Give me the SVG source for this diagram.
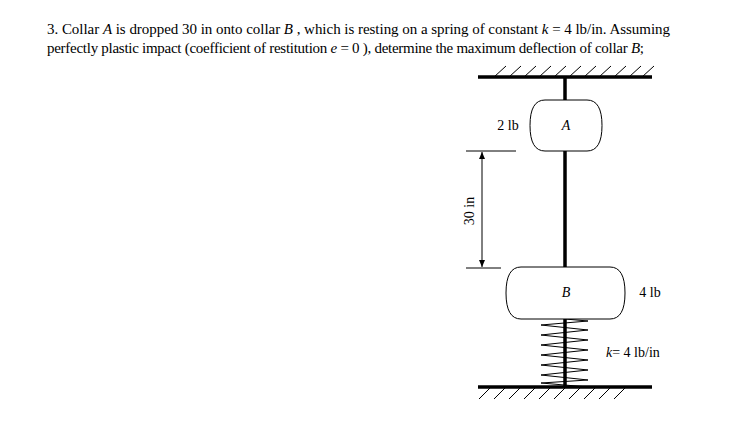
<svg xmlns="http://www.w3.org/2000/svg" width="735" height="438" viewBox="0 0 735 438">
<style>
text{font-family:"Liberation Serif","Times New Roman",serif;fill:#000}
.t{font-size:15px}
.l{font-size:14px}
.i{font-style:italic}
.g{stroke:#000;stroke-width:3.5;fill:none}
.h{stroke:#000;stroke-width:1;fill:none}
.c{stroke:#000;stroke-width:1;fill:#fff}
</style>
<defs>
<marker id="ar" markerWidth="8" markerHeight="8" refX="7" refY="4" orient="auto" markerUnits="userSpaceOnUse">
<path d="M0,1 L7,4 L0,7 z" fill="#000"/>
</marker>
</defs>
<rect width="735" height="438" fill="#fff"/>
<g id="title">
<text class="t" x="47" y="34" textLength="623" lengthAdjust="spacing">3. Collar <tspan class="i">A</tspan>  is dropped 30 in onto collar <tspan class="i">B</tspan> , which is resting on a spring of constant <tspan class="i">k</tspan> = 4  lb/in. Assuming</text>
<text class="t" x="47" y="53" textLength="597" lengthAdjust="spacing">perfectly plastic impact (coefficient of restitution <tspan class="i">e</tspan> = 0 ), determine the maximum deflection of collar <tspan class="i">B</tspan>;</text>
</g>
<g id="ceiling">
<line class="g" x1="478" y1="77" x2="652" y2="77"/>
<path class="h" d="M494,77 l12,-11 M509,77 l12,-11 M524,77 l12,-11 M539,77 l12,-11 M554,77 l12,-11 M569,77 l12,-11 M584,77 l12,-11 M599,77 l12,-11 M614,77 l12,-11 M629,77 l12,-11 M642,77 l12,-11"/>
</g>
<g id="ground">
<line class="g" x1="478" y1="387" x2="652" y2="387"/>
<path class="h" d="M479,399 l12,-12 M494,399 l12,-12 M509,399 l12,-12 M524,399 l12,-12 M539,399 l12,-12 M554,399 l12,-12 M569,399 l12,-12 M584,399 l12,-12 M599,399 l12,-12 M614,399 l12,-12"/>
</g>
<g id="rod">
<line x1="565" y1="77" x2="565" y2="387" stroke="#000" stroke-width="3.5"/>
</g>
<g id="spring">
<path class="h" d="M565,319 L588,321 L541,325 L588,330 L541,335 L588,340 L541,345 L588,350 L541,355 L588,360 L541,365 L588,370 L541,375 L588,380 L541,383 L588,387"/>
</g>
<g id="collarA">
<path class="c" d="M545,100 L587,100 Q602,100 602,125.5 Q602,151 587,151 L545,151 Q530,151 530,125.5 Q530,100 545,100 z"/>
<text class="l i" x="566" y="130" text-anchor="middle">A</text>
<text class="l" x="508" y="130" text-anchor="middle">2 lb</text>
</g>
<g id="collarB">
<path class="c" d="M521,267 L610,267 Q625,267 625,293 Q625,319 610,319 L521,319 Q506,319 506,293 Q506,267 521,267 z"/>
<text class="l i" x="566" y="297" text-anchor="middle">B</text>
<text class="l" x="650" y="297" text-anchor="middle">4 lb</text>
</g>
<g id="springLabel">
<text class="l" x="606" y="357"><tspan class="i">k</tspan>= 4 lb/in</text>
</g>
<g id="connectors">
<line class="h" x1="466" y1="151" x2="516" y2="151"/>
<line class="h" x1="466" y1="268" x2="501" y2="268"/>
<line class="h" x1="482" y1="210" x2="482" y2="152" marker-end="url(#ar)"/>
<line class="h" x1="482" y1="210" x2="482" y2="267" marker-end="url(#ar)"/>
<text class="l" transform="translate(474,211) rotate(-90)" text-anchor="middle">30 in</text>
</g>
</svg>
